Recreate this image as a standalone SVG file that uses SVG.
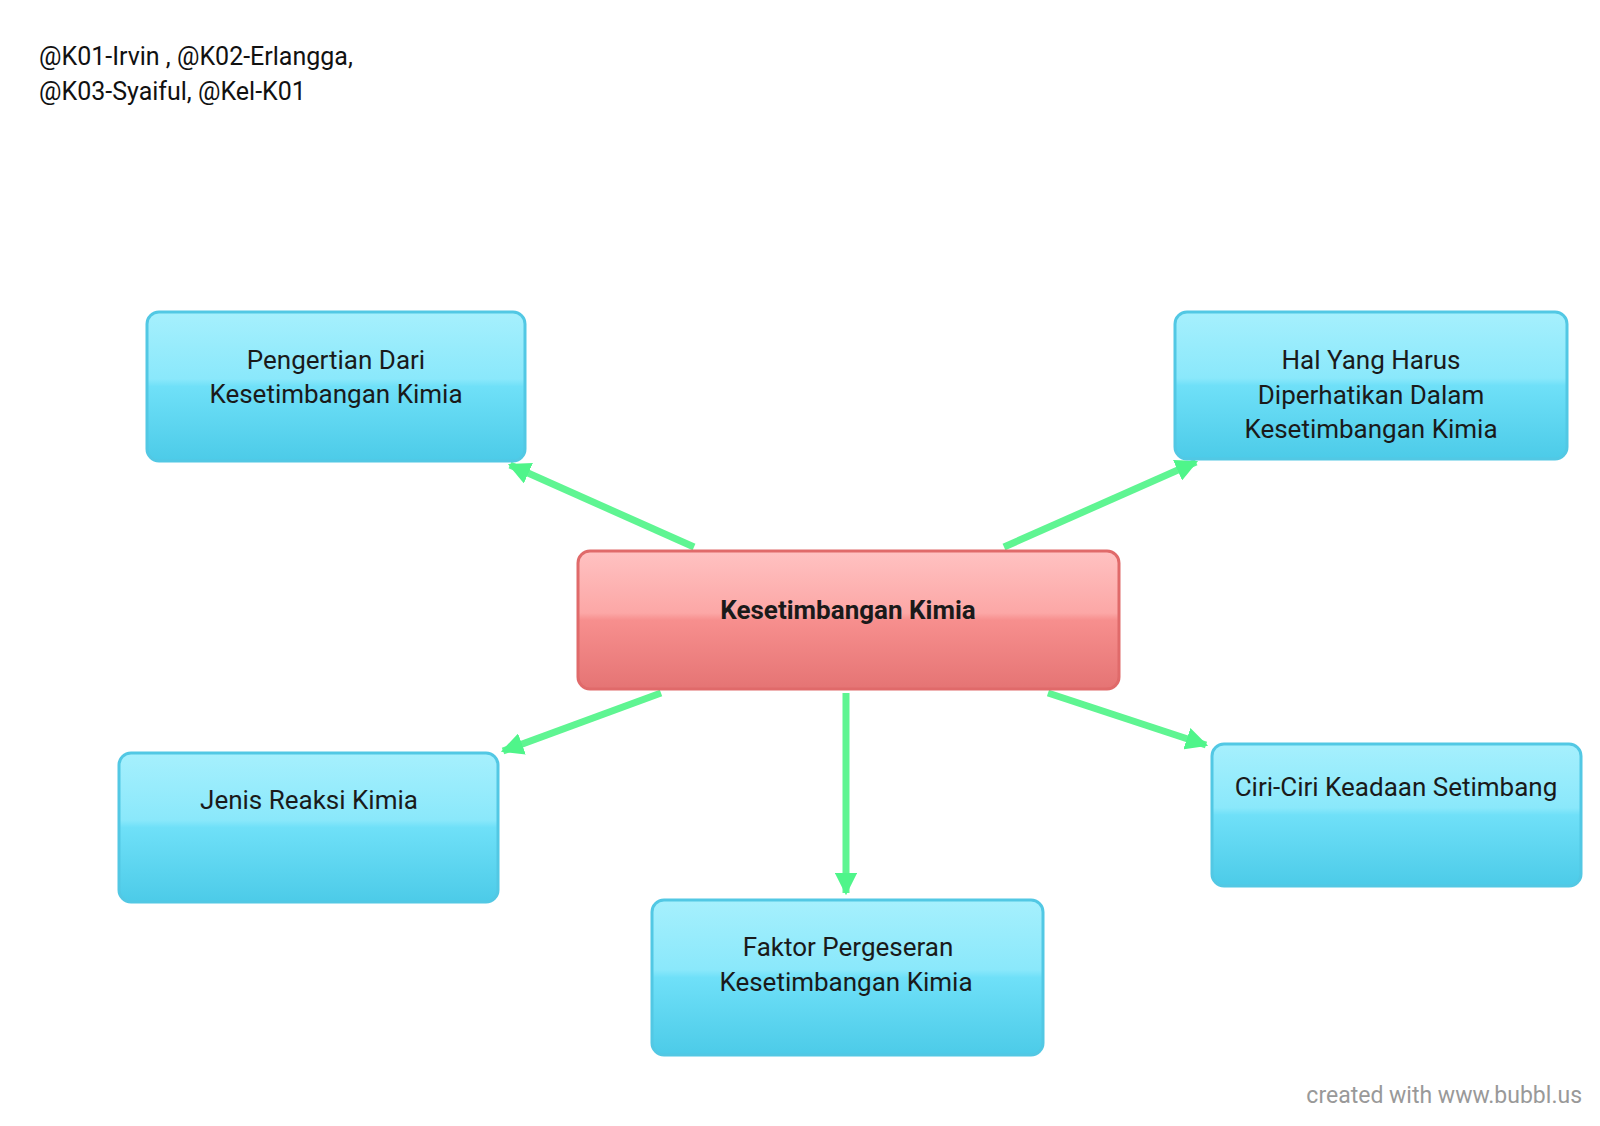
<svg xmlns="http://www.w3.org/2000/svg" width="1600" height="1126" viewBox="0 0 1600 1126">
<defs>
<linearGradient id="blue" x1="0" y1="0" x2="0" y2="1">
<stop offset="0" stop-color="#a6f0fd"/><stop offset="0.45" stop-color="#8ae8fb"/><stop offset="0.5" stop-color="#6fe0f8"/><stop offset="1" stop-color="#4ccbe8"/>
</linearGradient>
<linearGradient id="red" x1="0" y1="0" x2="0" y2="1">
<stop offset="0" stop-color="#ffc2c2"/><stop offset="0.45" stop-color="#fca7a6"/><stop offset="0.5" stop-color="#f78f8e"/><stop offset="1" stop-color="#e57474"/>
</linearGradient>
<marker id="ah" viewBox="0 0 10 10" refX="9" refY="5" markerWidth="3.2" markerHeight="3.2" orient="auto" markerUnits="strokeWidth">
<path d="M0,0 L10,5 L0,10 z" fill="#4ff58a"/>
</marker>
</defs>
<style>
.b{fill:url(#blue);stroke:#52c8e4;stroke-width:3}
.r{fill:url(#red);stroke:#e06a6a;stroke-width:3}
.t{font-family:Roboto,"Liberation Sans",sans-serif;font-size:26px;fill:#1a1a1a;text-anchor:middle}
.c{stroke:#5ff592;stroke-width:7;fill:none;marker-end:url(#ah)}
</style>
<rect width="1600" height="1126" fill="#fff"/>
<g font-family="Roboto,'Liberation Sans',sans-serif" font-size="25" fill="#111">
<text x="39" y="65">@K01-Irvin , @K02-Erlangga,</text>
<text x="39" y="100">@K03-Syaiful, @Kel-K01</text>
</g>
<g id="connectors">
<line class="c" x1="694" y1="547" x2="510" y2="465"/>
<line class="c" x1="1004" y1="547" x2="1196" y2="462"/>
<line class="c" x1="661" y1="693" x2="503" y2="751"/>
<line class="c" x1="846" y1="693" x2="846" y2="893"/>
<line class="c" x1="1048" y1="693" x2="1206" y2="745"/>
</g>
<g id="central"><rect class="r" x="578" y="551" width="541" height="138" rx="12"/><text class="t" x="848" y="619" font-size="40" font-weight="bold">Kesetimbangan Kimia</text></g>
<g id="pengertian"><rect class="b" x="147" y="312" width="378" height="149" rx="12"/><text class="t" x="336" y="369">Pengertian Dari</text><text class="t" x="336" y="403">Kesetimbangan Kimia</text></g>
<g id="hal"><rect class="b" x="1175" y="312" width="392" height="147" rx="12"/><text class="t" x="1371" y="369">Hal Yang Harus</text><text class="t" x="1371" y="404">Diperhatikan Dalam</text><text class="t" x="1371" y="438">Kesetimbangan Kimia</text></g>
<g id="jenis"><rect class="b" x="119" y="753" width="379" height="149" rx="12"/><text class="t" x="309" y="809">Jenis Reaksi Kimia</text></g>
<g id="ciri"><rect class="b" x="1212" y="744" width="369" height="142" rx="12"/><text class="t" x="1396" y="796" font-size="22">Ciri-Ciri Keadaan Setimbang</text></g>
<g id="faktor"><rect class="b" x="652" y="900" width="391" height="155" rx="12"/><text class="t" x="848" y="956">Faktor Pergeseran</text><text class="t" x="846" y="991">Kesetimbangan Kimia</text></g>
<text x="1582" y="1103" font-family="Roboto,'Liberation Sans',sans-serif" font-size="23" fill="#999" text-anchor="end">created with www.bubbl.us</text>
</svg>
